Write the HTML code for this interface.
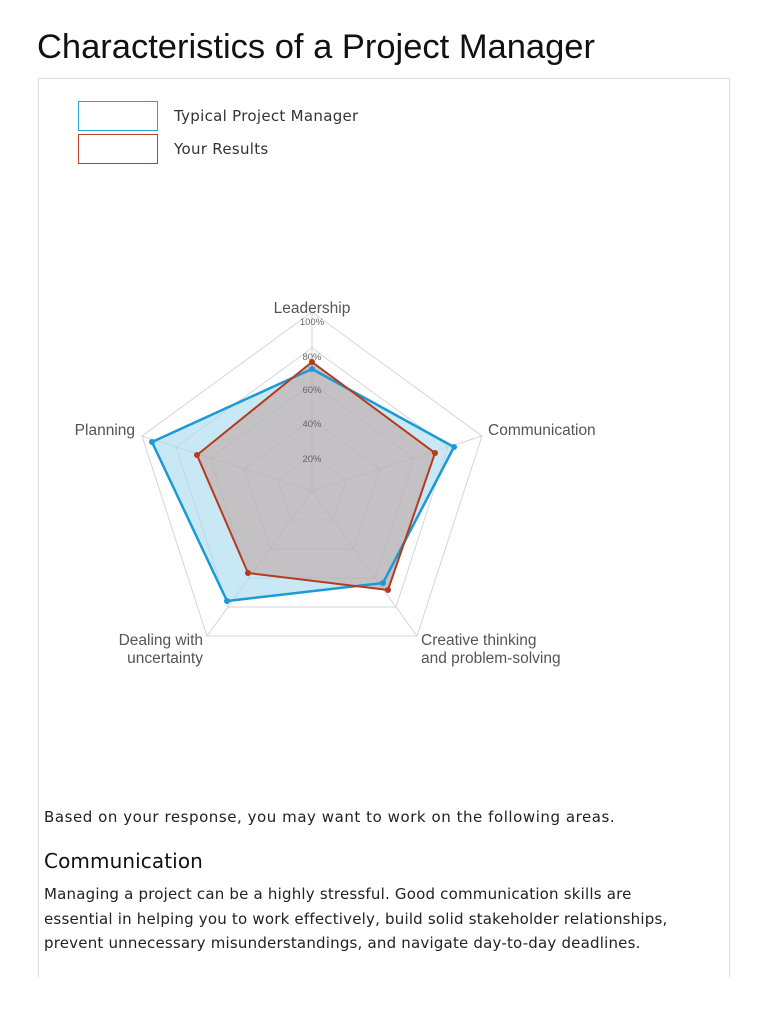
<!DOCTYPE html>
<html><head><meta charset="utf-8"><style>
html,body{margin:0;width:768px;height:1024px;overflow:hidden}
body{background:#fff;font-family:"Liberation Sans",sans-serif;position:relative}
.a{position:absolute;white-space:nowrap}
.v{font-family:"DejaVu Sans",sans-serif;letter-spacing:0.3px}
</style></head><body>
<div class="a" style="left:37px;top:28px;font-size:34.5px;color:#111">Characteristics of a Project Manager</div>
<div class="a" style="left:38px;top:78px;width:690px;height:898px;border:1px solid #ddd;border-bottom:none"></div>
<div class="a" style="left:78px;top:101px;width:78px;height:28px;border:1px solid #2aa3d8"></div>
<div class="a" style="left:78px;top:134px;width:78px;height:28px;border:1px solid #c0412a"></div>
<div class="a v" style="left:174px;top:107px;font-size:15px;color:#333">Typical Project Manager</div>
<div class="a v" style="left:174px;top:140px;font-size:15px;color:#333">Your Results</div>
<svg class="a" style="left:0;top:0" width="768" height="1024">
<defs><g id="grid">
<polygon points="312,312 482,436 417,636 207,636 142,436"/>
<polygon points="312,348 448,447 396,607 228,607 176,447"/>
<polygon points="312,384 414,458 375,578 249,578 210,458"/>
<polygon points="312,419 380,469 354,549 270,549 244,469"/>
<polygon points="312,455 346,480 333,520 291,520 278,480"/>
<line x1="312" y1="491" x2="312" y2="312"/><line x1="312" y1="491" x2="482" y2="436"/><line x1="312" y1="491" x2="417" y2="636"/><line x1="312" y1="491" x2="207" y2="636"/><line x1="312" y1="491" x2="142" y2="436"/>
</g></defs>
<use href="#grid" fill="none" stroke="#e6e6e6"/>
<polygon points="312,369 454,447 383,583 227,601 152,442" fill="#c9e8f6"/>
<polygon points="312,362 435,453 388,590 248,573 197,455" fill="#c4c1c4"/>
<use href="#grid" fill="none" stroke="rgba(160,160,160,0.22)"/>
<polygon points="312,369 454,447 383,583 227,601 152,442" fill="none" stroke="#1a9ad6" stroke-width="2.5"/>
<polygon points="312,362 435,453 388,590 248,573 197,455" fill="none" stroke="#b53a1e" stroke-width="2"/>
<g fill="#1a9ad6"><circle cx="312" cy="369" r="3"/><circle cx="454" cy="447" r="3"/><circle cx="383" cy="583" r="3"/><circle cx="227" cy="601" r="3"/><circle cx="152" cy="442" r="3"/></g>
<g fill="#b53a1e"><circle cx="312" cy="362" r="3"/><circle cx="435" cy="453" r="3"/><circle cx="388" cy="590" r="3"/><circle cx="248" cy="573" r="3"/><circle cx="197" cy="455" r="3"/></g>
<g font-size="9.5" fill="#666" text-anchor="middle" font-family="Liberation Sans">
<text x="312" y="325">100%</text><text x="312" y="360">80%</text><text x="312" y="393">60%</text><text x="312" y="427">40%</text><text x="312" y="462">20%</text></g>
<g font-size="15.5" fill="#555" font-family="Liberation Sans">
<text x="312" y="313" text-anchor="middle">Leadership</text>
<text x="488" y="435">Communication</text>
<text x="135" y="435" text-anchor="end">Planning</text>
<text x="421" y="645">Creative thinking</text><text x="421" y="663">and problem-solving</text>
<text x="203" y="645" text-anchor="end">Dealing with</text><text x="203" y="663" text-anchor="end">uncertainty</text>
</g></svg>
<div class="a v" style="left:44px;top:808px;font-size:15px;color:#222;letter-spacing:0.55px">Based on your response, you may want to work on the following areas.</div>
<div class="a v" style="left:44px;top:849px;font-size:20px;color:#111;letter-spacing:0.1px">Communication</div>
<div class="a v" style="left:44px;top:882px;font-size:15px;color:#222;line-height:24.5px;letter-spacing:0.2px">Managing a project can be a highly stressful. Good communication skills are<br>essential in helping you to work effectively, build solid stakeholder relationships,<br>prevent unnecessary misunderstandings, and navigate day-to-day deadlines.</div>
</body></html>
